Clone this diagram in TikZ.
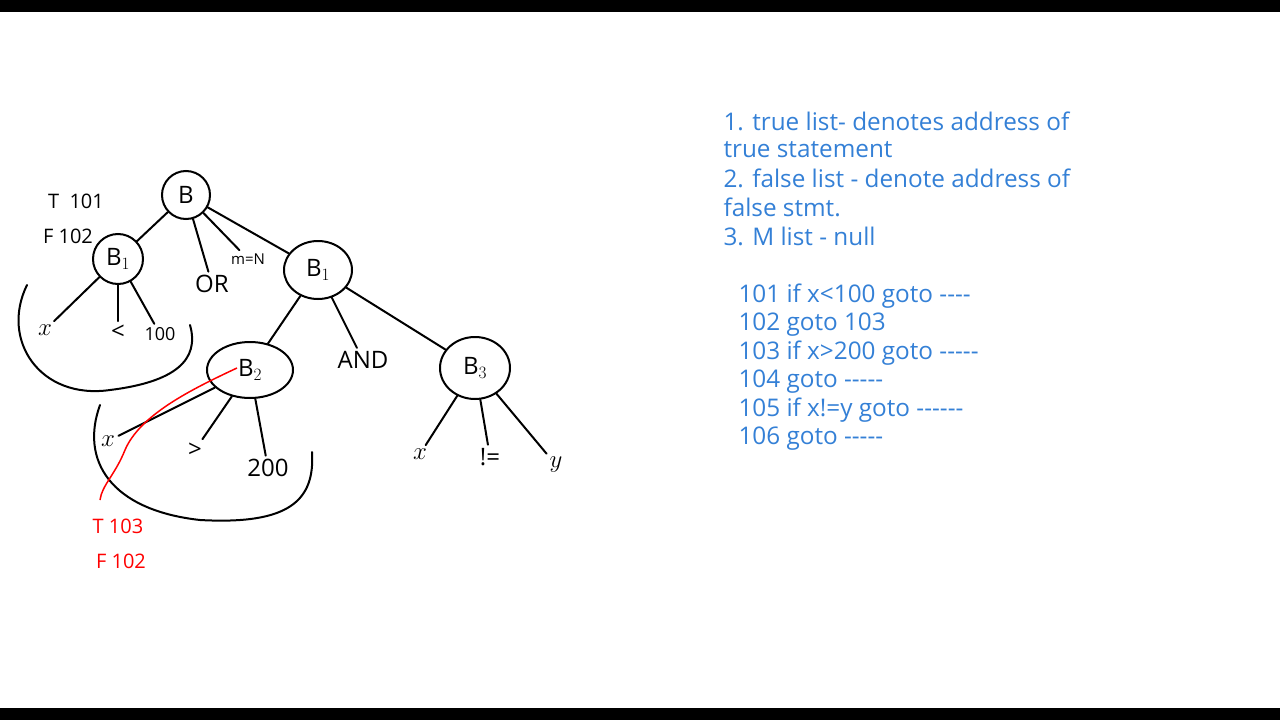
\documentclass[tikz,border=0pt]{standalone}
\usepackage{fontspec}
\setmainfont{Open Sans}
\setsansfont{Open Sans}
\usetikzlibrary{shapes.geometric}
\definecolor{bl}{RGB}{52,128,214}
\begin{document}
\begin{tikzpicture}[x=1pt,y=-1pt,
  hand/.style={line width=2pt,line cap=round,line join=round},
  nd/.style={draw,ellipse,line width=2pt,inner sep=0pt},
  lbl/.style={font=\fontsize{24}{26}\selectfont},
  blu/.style={text=bl,anchor=west,font=\fontsize{24.3}{26}\selectfont}]
\useasboundingbox (0,0) rectangle (1280,720);
\fill[black] (0,0) rectangle (1280,12);
\fill[black] (0,708) rectangle (1280,720);
% nodes
\node[nd,circle,minimum size=48pt,lbl] (B) at (186,195) {B};
\node[nd,circle,minimum size=50pt,lbl] (B1) at (118,259) {B$_1$};
\node[nd,minimum width=68pt,minimum height=58pt,lbl] (Bm) at (318,270) {B$_1$};
\node[nd,minimum width=86pt,minimum height=56pt,lbl] (B2) at (250,370) {B$_2$};
\node[nd,minimum width=70pt,minimum height=62pt,lbl] (B3) at (475,368) {B$_3$};
% leaves
\node[lbl] (x1) at (45,330) {$x$};
\node[lbl] (lt) at (118,332) {<};
\node[lbl,font=\fontsize{18}{20}\selectfont] (c100) at (160,334) {100};
\node[lbl] (or) at (212,284) {OR};
\node[lbl,font=\fontsize{15}{17}\selectfont] (mn) at (248,259) {m=N};
\node[lbl] (and) at (363,360) {AND};
\node[lbl] (x2) at (108,441) {$x$};
\node[lbl] (gt) at (195,450) {>};
\node[lbl] (c200) at (268,468) {200};
\node[lbl] (x3) at (420,454) {$x$};
\node[lbl] (ne) at (490,457) {!=};
\node[lbl] (y) at (556,465) {$y$};
\node[lbl,font=\fontsize{20}{22}\selectfont] (t1) at (76,201) {T\ \ 101};
\node[lbl,font=\fontsize{20}{22}\selectfont] (f1) at (68,236) {F 102};
\node[lbl,text=red,font=\fontsize{20}{22}\selectfont] (t3) at (118,526) {T 103};
\node[lbl,text=red,font=\fontsize{20}{22}\selectfont] (f3) at (121,561) {F 102};
% edges
\draw[hand] (B) -- (B1);
\draw[hand] (B) -- (or);
\draw[hand] (B) -- (mn);
\draw[hand] (B) -- (Bm);
\draw[hand] (B1) -- (x1);
\draw[hand] (B1) -- (lt);
\draw[hand] (B1) -- (c100);
\draw[hand] (Bm) -- (B2);
\draw[hand] (Bm) -- (and);
\draw[hand] (Bm) -- (B3);
\draw[hand] (B2) -- (x2);
\draw[hand] (B2) -- (gt);
\draw[hand] (B2) -- (c200);
\draw[hand] (B3) -- (x3);
\draw[hand] (B3) -- (ne);
\draw[hand] (B3) -- (y);
% enclosing curves
\coordinate (a1) at (27,285); \coordinate (a2) at (190,325);
\draw[hand] (a1) .. controls (0,340) and (40,400) .. (110,390) .. controls (175,382) and (200,360) .. (a2);
\coordinate (b1) at (100,405); \coordinate (b2) at (312,452);
\draw[hand] (b1) .. controls (80,460) and (110,510) .. (200,520) .. controls (290,525) and (315,500) .. (b2);
% red line
\coordinate (r1) at (237,368); \coordinate (r2) at (100,500);
\draw[red,line width=1.5pt] (r1) .. controls (190,390) and (140,415) .. (125,450) .. controls (115,475) and (102,485) .. (r2);
% text
\node[blu] (l1) at (720,121) {1. true list- denotes address of};
\node[blu] (l2) at (720,150) {true statement};
\node[blu] (l3) at (720,178) {2. false list - denote address of};
\node[blu] (l4) at (720,207) {false stmt.};
\node[blu] (l5) at (720,236) {3. M list - null};
\node[blu] (c1) at (735,296) {101 if x<100 goto -{}-{}-{}-};
\node[blu] (c2) at (735,325) {102 goto 103};
\node[blu] (c3) at (735,353) {103 if x>200 goto -{}-{}-{}-{}-};
\node[blu] (c4) at (735,382) {104 goto -{}-{}-{}-{}-};
\node[blu] (c5) at (735,410) {105 if x!=y goto -{}-{}-{}-{}-{}-};
\node[blu] (c6) at (735,439) {106 goto -{}-{}-{}-{}-};
\end{tikzpicture}
\end{document}
